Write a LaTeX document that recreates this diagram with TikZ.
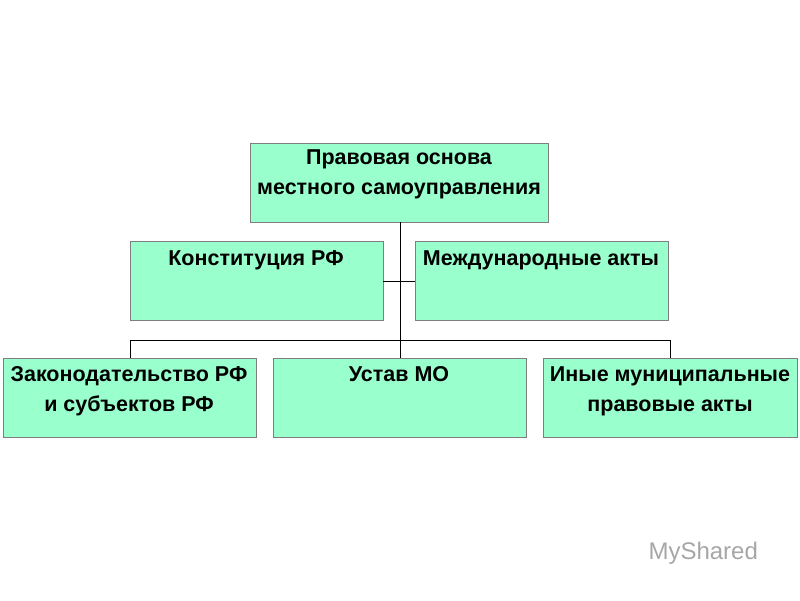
\documentclass[tikz,border=0pt]{standalone}
\usepackage{fontspec}
\setmainfont{Liberation Sans}
\definecolor{boxfill}{HTML}{99FFCC}
\definecolor{boxline}{HTML}{7F7F7F}
\begin{document}
\begin{tikzpicture}[x=1pt,y=-1pt,
  bx/.style={draw=boxline,fill=boxfill,line width=1pt},
  tx/.style={font=\bfseries\fontsize{21.5}{30}\selectfont,align=center,anchor=north},
  ln/.style={line width=1pt,black}]
\useasboundingbox (0,0) rectangle (800,600);
\draw[bx] (250,143) rectangle (548,222);
\draw[bx] (130,241) rectangle (383,320);
\draw[bx] (415,241) rectangle (668,320);
\draw[bx] (3,358) rectangle (256,437);
\draw[bx] (273,358) rectangle (526,437);
\draw[bx] (543,358) rectangle (797,437);
\coordinate (tb) at (400,222);
\coordinate (mb) at (400,358);
\coordinate (ha) at (383,281);
\coordinate (hb) at (415,281);
\coordinate (l1) at (130,340);
\coordinate (l2) at (130,358);
\coordinate (r1) at (670,340);
\coordinate (r2) at (670,358);
\draw[ln] (tb) -- (mb);
\draw[ln] (ha) -- (hb);
\draw[ln] (l2) -- (l1) -- (r1) -- (r2);
\node[tx] (t0) at (399,146) {Правовая основа\\местного самоуправления};
\node[tx] (t1) at (256,247) {Конституция РФ};
\node[tx] (t2) at (541,247) {Международные акты};
\node[tx] (t3) at (129,363) {Законодательство РФ\\и субъектов РФ};
\node[tx] (t4) at (399,363) {Устав МО};
\node[tx] (t5) at (670,363) {Иные муниципальные\\правовые акты};
\node[font=\fontsize{24}{26}\selectfont,text=gray!70,anchor=west] (wm) at (645,553) {MyShared};
\end{tikzpicture}
\end{document}
